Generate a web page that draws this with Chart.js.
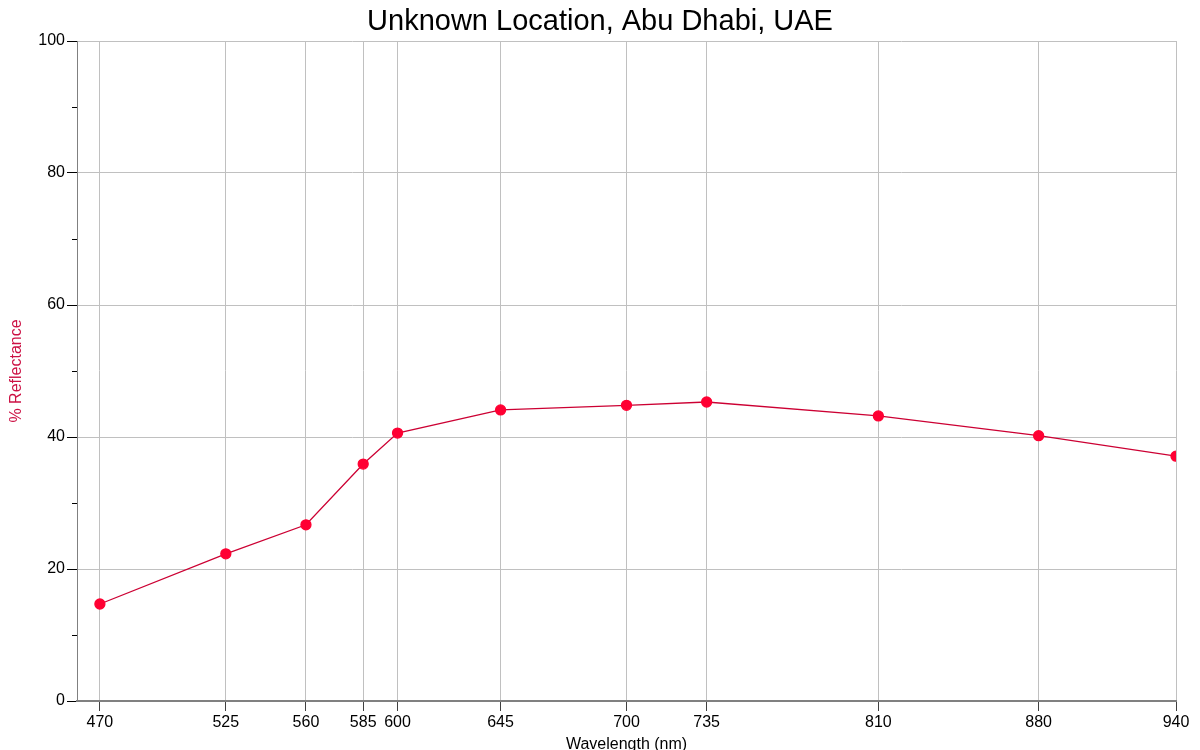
<!DOCTYPE html>
<html>
<head>
<meta charset="utf-8">
<title>Unknown Location, Abu Dhabi, UAE</title>
<script src="https://cdn.jsdelivr.net/npm/chart.js@4.4.1/dist/chart.umd.min.js"></script>
<style>
  html, body { margin: 0; padding: 0; background: #fff; }
  #wrap { width: 1200px; height: 750px; }
</style>
</head>
<body>
<div id="wrap"><canvas id="myChart"></canvas></div>
<script>
// wavelengths (nm) and % reflectance
const wavelengths = [470, 525, 560, 585, 600, 645, 700, 735, 810, 880, 940];
const reflectance = [14.7, 22.3, 26.7, 35.9, 40.6, 44.1, 44.8, 45.3, 43.2, 40.2, 37.1];
const yMajorTicks = [0, 20, 40, 60, 80, 100];
const yMinorTicks = [10, 30, 50, 70, 90];

const fontFamily = "'Liberation Sans', Arial, sans-serif";

// small unlabeled ticks between the major ones on the y axis
const minorTicks = {
  id: 'minorTicks',
  afterDraw(chart) {
    const y = chart.scales.y;
    const c = chart.ctx;
    c.save();
    c.strokeStyle = '#000';
    c.lineWidth = 1;
    yMinorTicks.forEach(v => {
      const py = Math.round(y.getPixelForValue(v)) + 0.5;
      c.beginPath();
      c.moveTo(chart.chartArea.left - 5, py);
      c.lineTo(chart.chartArea.left, py);
      c.stroke();
    });
    c.restore();
  }
};

const data = {
  datasets: [{
    label: '% Reflectance',
    data: wavelengths.map((w, i) => ({ x: w, y: reflectance[i] })),
    borderColor: '#cc0033',
    borderWidth: 1.3,
    backgroundColor: '#ff0033',
    pointBackgroundColor: '#ff0033',
    pointBorderColor: '#ff0033',
    pointRadius: 5,
    pointHoverRadius: 5,
    tension: 0,
    clip: 0
  }]
};

const config = {
  type: 'line',
  data: data,
  plugins: [minorTicks],
  options: {
    responsive: true,
    maintainAspectRatio: false,
    animation: false,
    layout: { padding: { left: 24, right: 24, top: 0, bottom: -4 } },
    plugins: {
      legend: { display: false },
      tooltip: { enabled: false },
      title: {
        display: true,
        text: 'Unknown Location, Abu Dhabi, UAE',
        color: '#000',
        font: { family: fontFamily, size: 29, weight: 'normal' },
        padding: { top: 5, bottom: 1.2 }
      }
    },
    scales: {
      x: {
        type: 'linear',
        min: 460,
        max: 940,
        afterBuildTicks: axis => { axis.ticks = wavelengths.map(v => ({ value: v })); },
        afterFit: axis => { axis.height = 53; },
        border: { display: true, color: '#808080', width: 2 },
        grid: { color: '#c0c0c0', lineWidth: 1, drawTicks: true, tickLength: 10, tickColor: '#404040' },
        ticks: {
          color: '#000',
          padding: 2,
          maxRotation: 0,
          autoSkip: false,
          font: { family: fontFamily, size: 16 },
          callback: v => v
        },
        title: {
          display: true,
          text: 'Wavelength (nm)',
          color: '#000',
          font: { family: fontFamily, size: 16 },
          padding: { top: 0, bottom: 0 }
        }
      },
      y: {
        min: 0,
        max: 100,
        afterBuildTicks: axis => { axis.ticks = yMajorTicks.map(v => ({ value: v })); },
        afterFit: axis => { axis.width = 53; },
        border: { display: true, color: '#808080', width: 1 },
        grid: { color: '#c0c0c0', lineWidth: 1, drawTicks: true, tickLength: 10, tickColor: '#000' },
        ticks: {
          color: '#000',
          padding: 2,
          font: { family: fontFamily, size: 16 }
        },
        title: {
          display: true,
          text: '% Reflectance',
          color: '#cc1144',
          font: { family: fontFamily, size: 16 },
          padding: { top: -17, bottom: 0 }
        }
      }
    }
  }
};

new Chart(document.getElementById('myChart'), config);
</script>
</body>
</html>
